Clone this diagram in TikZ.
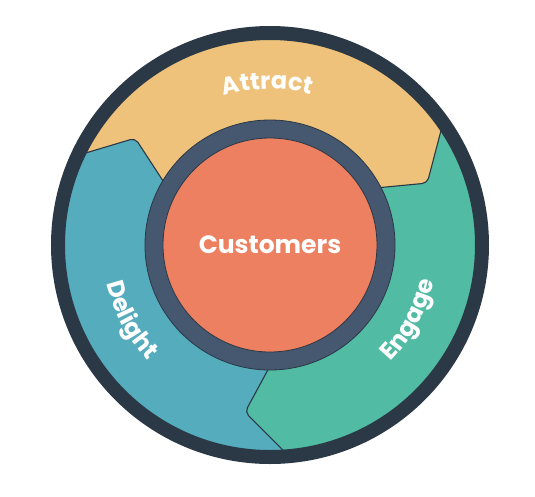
\documentclass[tikz,border=0pt]{standalone}
\usepackage{fontspec}
\setmainfont{Poppins}
\usepackage{tikz}
\usetikzlibrary{calc,decorations.text}

\definecolor{ringdark}{HTML}{2B3845}
\definecolor{attractcol}{HTML}{EEC27A}
\definecolor{engagecol}{HTML}{52BBA3}
\definecolor{delightcol}{HTML}{54ACBD}
\definecolor{hubcol}{HTML}{455870}
\definecolor{customercol}{HTML}{EC8061}

\tikzset{
  stage/.style={rounded corners=5pt},
  seam/.style={draw=ringdark,line width=1.1pt,rounded corners=5pt},
  label/.style={decorate,decoration={text along path,text align=center,text color=white,
      text={|\fontsize{24}{24}\selectfont\bfseries|#1}}}
}

\begin{document}
\begin{tikzpicture}[x=1pt,y=1pt]
    \useasboundingbox (-270,-251) rectangle (265,245);

    \coordinate (ae-in) at (27.4:125);
    \coordinate (ae-tip) at (21.5:169);
    \coordinate (ae-out) at (33.6:205);
    \coordinate (ed-in) at (-91:125);
    \coordinate (ed-tip) at (-98.5:169);
    \coordinate (ed-out) at (-86.5:205);
    \coordinate (da-in) at (149:125);
    \coordinate (da-tip) at (141.6:172);
    \coordinate (da-out) at (153.2:205);

    \coordinate (ae-a) at ($(ae-tip)!2!(ae-in)$);
    \coordinate (ae-b) at ($(ae-tip)!1.8!(ae-out)$);
    \coordinate (ed-a) at ($(ed-tip)!2!(ed-in)$);
    \coordinate (ed-b) at ($(ed-tip)!1.8!(ed-out)$);
    \coordinate (da-a) at ($(da-tip)!2!(da-in)$);
    \coordinate (da-b) at ($(da-tip)!1.8!(da-out)$);

    \begin{scope}
        \clip (0,0) circle (212);
        \fill[stage,attractcol] (da-a) -- (da-tip) -- (da-b) -- (130:330) -- (90:330) -- (50:330)
            -- (ae-b) -- (ae-tip) -- (ae-a) -- (0,0) -- cycle;
        \fill[stage,engagecol] (ae-a) -- (ae-tip) -- (ae-b) -- (10:330) -- (-30:330) -- (-70:330)
            -- (ed-b) -- (ed-tip) -- (ed-a) -- (0,0) -- cycle;
        \fill[stage,delightcol] (ed-a) -- (ed-tip) -- (ed-b) -- (-110:330) -- (-150:330) -- (170:330)
            -- (da-b) -- (da-tip) -- (da-a) -- (0,0) -- cycle;
        \path[seam] (ae-a) -- (ae-tip) -- (ae-b);
        \path[seam] (ed-a) -- (ed-tip) -- (ed-b);
        \path[seam] (da-a) -- (da-tip) -- (da-b);
    \end{scope}

    \draw[ringdark,line width=14pt] (0,0) circle (212);

    \node[circle,fill=hubcol,draw=ringdark,line width=0.8pt,minimum size=250pt,inner sep=0pt] (hub) at (0,0) {};
    \node[circle,fill=customercol,draw=ringdark,line width=0.8pt,minimum size=214pt,inner sep=0pt,
        text=white,font=\fontsize{25}{25}\selectfont\bfseries] (customers) at (0,0) {Customers};

    \path[label=Attract] (131:156) arc[start angle=131,end angle=51,radius=156];
    \path[label=Delight] (168.3:168) arc[start angle=168.3,end angle=248.3,radius=168];
    \path[label=Engage] (-68.2:168) arc[start angle=-68.2,end angle=11.8,radius=168];
\end{tikzpicture}
\end{document}
